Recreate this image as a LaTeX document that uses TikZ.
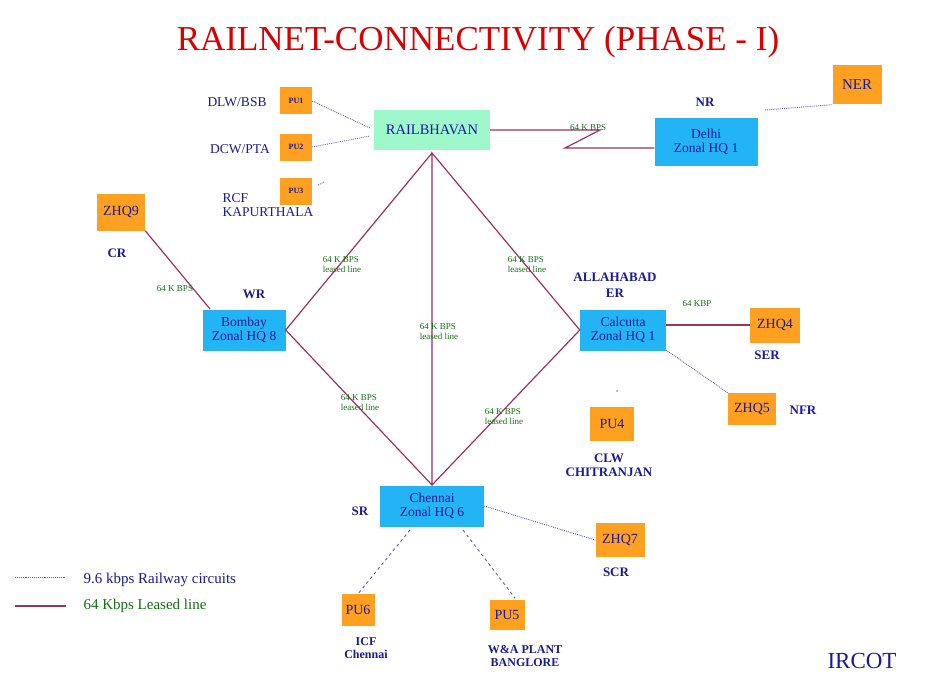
\documentclass[tikz,border=0pt]{standalone}
\usepackage{fontspec}
\setmainfont{Liberation Serif}
\begin{document}
\begin{tikzpicture}[x=1pt,y=-1pt,
  lk/.style={draw=lnk,line width=1.2pt},
  dt/.style={draw=dkb!70,densely dotted,line width=0.9pt},
  ds/.style={draw=dkb!70,dashed,line width=0.9pt},
  org/.style={fill=orgc,inner sep=0pt,font=\fontsize{14}{15}\selectfont,text=dkb},
  blu/.style={fill=bluc,inner sep=0pt,align=center,font=\fontsize{13.5}{14.5}\selectfont,text=dkb},
  lab/.style={font=\bfseries\fontsize{13}{14}\selectfont,text=dkb,align=center},
  gl/.style={font=\fontsize{9}{10}\selectfont,text=grn,align=left}]
\definecolor{lnk}{HTML}{A03060}
\definecolor{orgc}{HTML}{FFA020}
\definecolor{bluc}{HTML}{22B4F4}
\definecolor{dkb}{HTML}{1A1A9A}
\definecolor{grn}{HTML}{107010}
\definecolor{mint}{HTML}{9FF8CC}
\useasboundingbox (0,0) rectangle (925,690);
\node[text=red!85!black,font=\fontsize{35}{37}\selectfont] (title) at (478,42) {RAILNET-CONNECTIVITY (PHASE - I)};
\node[fill=mint,minimum width=116,minimum height=39,inner sep=0pt,text=dkb,font=\fontsize{14.5}{15}\selectfont] (rb) at (432,130) {RAILBHAVAN};
\node[blu,minimum width=103,minimum height=48] (delhi) at (706,142) {Delhi\\Zonal HQ 1};
\node[lab] (nr) at (705,102) {NR};
\node[org,minimum width=49,minimum height=39,font=\fontsize{15}{16}\selectfont] (ner) at (857,85) {NER};
\node[org,minimum width=32,minimum height=27,font=\bfseries\fontsize{8}{9}\selectfont] (pu1) at (296,101) {PU1};
\node[org,minimum width=32,minimum height=27,font=\bfseries\fontsize{8}{9}\selectfont] (pu2) at (296,147) {PU2};
\node[org,minimum width=32,minimum height=27,font=\bfseries\fontsize{8}{9}\selectfont] (pu3) at (296,191) {PU3};
\node[text=dkb,font=\fontsize{13.5}{14}\selectfont] (dlw) at (237,102) {DLW/BSB};
\node[text=dkb,font=\fontsize{13.5}{14}\selectfont] (dcw) at (240,149) {DCW/PTA};
\node[text=dkb,font=\fontsize{13.5}{14}\selectfont,align=left] (rcf) at (268,205) {RCF\\KAPURTHALA};
\node[org,minimum width=48,minimum height=37] (z9) at (121,212) {ZHQ9};
\node[lab] (cr) at (117,253) {CR};
\node[blu,minimum width=83,minimum height=41] (bom) at (244,330) {Bombay\\Zonal HQ 8};
\node[lab] (wr) at (254,294) {WR};
\node[blu,minimum width=86,minimum height=41] (cal) at (623,330) {Calcutta\\Zonal HQ 1};
\node[lab,font=\bfseries\fontsize{13}{16}\selectfont] (er) at (615,285) {ALLAHABAD\\ER};
\node[org,minimum width=50,minimum height=35] (z4) at (775,325) {ZHQ4};
\node[lab] (ser) at (767,355) {SER};
\node[org,minimum width=48,minimum height=32] (z5) at (752,409) {ZHQ5};
\node[lab] (nfr) at (803,410) {NFR};
\node[org,minimum width=44,minimum height=34] (pu4) at (612,424) {PU4};
\node[lab] (clw) at (609,465) {CLW\\CHITRANJAN};
\node[fill=gray,circle,inner sep=0.6pt] (dot) at (617,391) {};
\node[blu,minimum width=104,minimum height=41] (che) at (432,506) {Chennai\\Zonal HQ 6};
\node[lab] (sr) at (360,511) {SR};
\node[org,minimum width=49,minimum height=34] (z7) at (620,540) {ZHQ7};
\node[lab] (scr) at (616,572) {SCR};
\node[org,minimum width=33,minimum height=32] (pu6) at (358,610) {PU6};
\node[lab,font=\bfseries\fontsize{12}{13}\selectfont] (icf) at (366,648) {ICF\\Chennai};
\node[org,minimum width=35,minimum height=30] (pu5) at (507,615) {PU5};
\node[lab,font=\bfseries\fontsize{12}{13}\selectfont] (wa) at (525,656) {W\&A PLANT\\BANGLORE};
\node[text=dkb,font=\fontsize{23}{24}\selectfont] (ircot) at (862,661) {IRCOT};
% legend
\coordinate (l1a) at (15,577); \coordinate (l1b) at (66,577);
\coordinate (l2a) at (15,606); \coordinate (l2b) at (66,606);
\draw[dt] (l1a) -- (l1b);
\draw[lk] (l2a) -- (l2b);
\node[anchor=west,text=dkb,font=\fontsize{15}{16}\selectfont] (lt1) at (80,580) {9.6 kbps Railway circuits};
\node[anchor=west,text=grn,font=\fontsize{15}{16}\selectfont] (lt2) at (80,606) {64 Kbps Leased line};
% leased lines
\coordinate (top) at (432,153);
\coordinate (bt) at (432,485);
\draw[lk] (top) -- (bom.east) -- (bt) -- (cal.west) -- (top) -- (bt);
\draw[lk] (z9.south east) -- (210,309);
\draw[lk] (cal.east |- z4.west) -- (z4.west);
\coordinate (zz1) at (600,130); \coordinate (zz2) at (565,148);
\draw[lk] (rb.east) -- (zz1) -- (zz2) -- (delhi.west |- zz2);
% dotted
\draw[dt] (765,110) -- (ner.south west);
\draw[dt] (pu1.east) -- (370,128);
\draw[dt] (pu2.east) -- (370,136);
\draw[dt] (pu3.east) ++(6,-6) -- ++(6,-3);
\draw[dt] (666,350) -- (z5.north west);
\draw[dt] (che.east) -- (z7.west);
\draw[ds] (410,530) -- (pu6.north);
\draw[ds] (463,530) -- (515,598);
% green labels
\node[gl] (g0) at (175,289) {64 K BPS};
\node[gl] (g1) at (588,128) {64 K BPS};
\node[gl] (g2) at (342,265) {64 K BPS\\leased line};
\node[gl] (g3) at (527,265) {64 K BPS\\leased line};
\node[gl] (g4) at (439,332) {64 K BPS\\leased line};
\node[gl] (g5) at (360,403) {64 K BPS\\leased line};
\node[gl] (g6) at (504,417) {64 K BPS\\leased line};
\node[gl] (g7) at (697,304) {64 KBP};
\end{tikzpicture}
\end{document}
